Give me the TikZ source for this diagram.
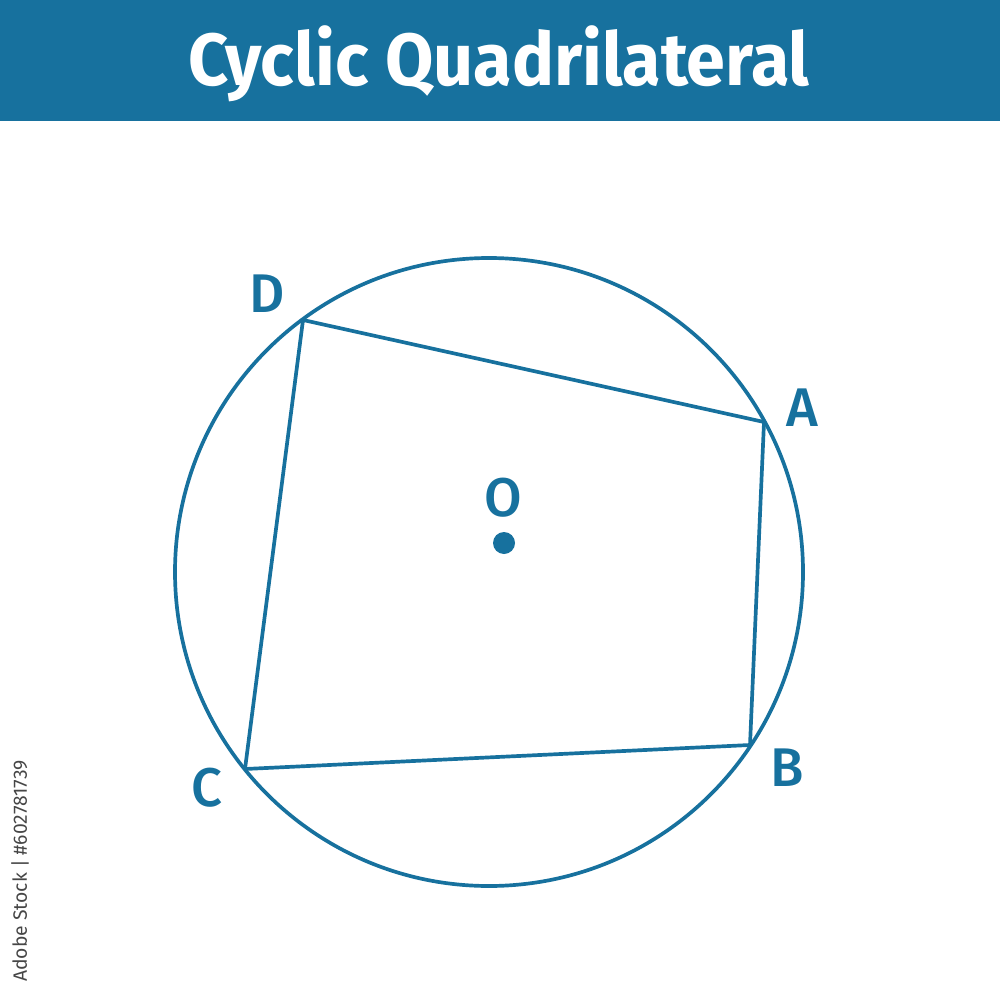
\documentclass[tikz,border=0pt]{standalone}
\usepackage{fontspec}
\setmainfont{Fira Sans}
\newfontfamily\labelfont{Fira Sans Medium}
\definecolor{cqblue}{RGB}{23,113,158}
\definecolor{stockgray}{RGB}{70,70,70}
\tikzset{
  side/.style={draw=cqblue,line width=2.1pt,line join=round},
  vlabel/.style={text=cqblue,font=\labelfont\fontsize{31}{31}\selectfont,inner sep=0pt},
}

\begin{document}
\begin{tikzpicture}[x=0.02cm,y=-0.02cm]
   \useasboundingbox (0,0) rectangle (1000,993);
   \fill[cqblue] (0,0) rectangle (1000,121);
   \node[text=white,inner sep=0pt] (title) at (499,64)
      {\scalebox{0.95}[1]{\fontsize{42}{42}\selectfont\bfseries Cyclic Quadrilateral}};

   \node[circle,side,minimum size=628*0.02cm,inner sep=0pt] (circ) at (489,572) {};
   \coordinate (a) at (764,422);
   \coordinate (b) at (750,745);
   \coordinate (c) at (245,769);
   \coordinate (d) at (303,320);
   \draw[side] (a) -- (b) -- (c) -- (d) -- cycle;

   \fill[cqblue] (504,543) circle (11);
   \node[vlabel] (lo) at (503,498) {O};
   \node[vlabel] (la) at (802,408) {A};
   \node[vlabel] (lb) at (787,768) {B};
   \node[vlabel] (lc) at (207,788) {C};
   \node[vlabel] (ld) at (267,294) {D};

   \node[rotate=90,text=stockgray,font=\fontsize{11}{11}\selectfont,inner sep=0pt] (stock) at (20,871) {Adobe Stock | \#602781739};
\end{tikzpicture}
\end{document}
